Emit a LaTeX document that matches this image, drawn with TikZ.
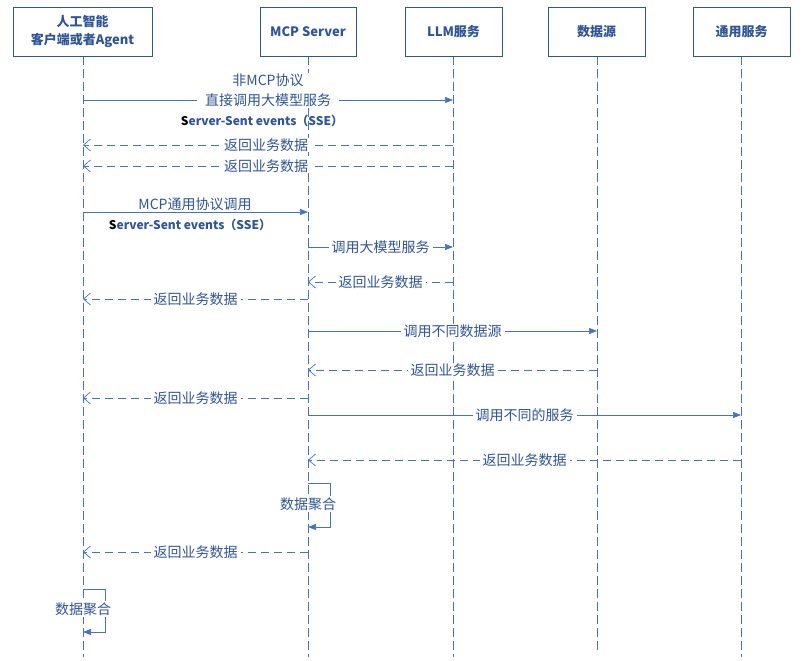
\documentclass[tikz,border=0pt]{standalone}
\usepackage{fontspec}
\setmainfont{Noto Sans CJK SC}
\usetikzlibrary{arrows.meta}
\definecolor{ln}{HTML}{4472C4}
\definecolor{tx}{HTML}{2F5597}
\begin{document}
\begin{tikzpicture}[x=1pt,y=-1pt,
  box/.style={draw=tx,line width=0.8pt,fill=white,minimum height=49pt,font=\fontsize{13}{18}\selectfont\bfseries,text=tx,align=center,inner sep=0pt},
  life/.style={draw=ln,dash pattern=on 9pt off 4pt,line width=0.7pt},
  call/.style={draw=ln,line width=0.7pt,-{Triangle[length=8pt,width=6pt]}},
  ret/.style={draw=ln,line width=0.7pt,dash pattern=on 8pt off 5pt,-{Straight Barb[length=7pt,width=12pt]}},
  lb/.style={fill=white,text=tx,font=\fontsize{14}{20}\selectfont,inner ysep=1pt,inner xsep=3pt,align=center},
  sse/.style={text=tx,font=\fontsize{12}{14}\selectfont\bfseries,inner sep=1pt}]
\useasboundingbox (0,0) rectangle (803,661);
\foreach \n/\x/\e in {a/83/657,m/308/657,l/453/657,d/597/650,g/741/657}{
  \coordinate (\n0) at (\x,56); \coordinate (\n1) at (\x,\e);
  \draw[life] (\n0)--(\n1);}
\node[box,minimum width=139pt] (A) at (82.5,31.5) {人工智能\\客户端或者Agent};
\node[box,minimum width=96pt] (M) at (308,31.5) {MCP Server};
\node[box,minimum width=97pt] (L) at (453.5,31.5) {LLM服务};
\node[box,minimum width=97pt] (D) at (596.5,31.5) {数据源};
\node[box,minimum width=97pt] (G) at (741.5,31.5) {通用服务};
\foreach \y in {100,145,166,212,247,282,299,331,370,398,415,460,552}{
  \foreach \n/\x in {a/83,m/308,l/453,d/597,g/741}{\coordinate (\n\y) at (\x,\y);}}
\draw[call] (a100)--(l100);
\node[lb,inner xsep=8pt] (t1) at (268,90) {非MCP协议\\直接调用大模型服务};
\node[sse] (s1) at (262,121) {\textcolor{black}{S}erver-Sent events（SSE）};
\draw[ret] (l145)--(a145) node[lb,pos=0.5,xshift=-2pt] (t2) {返回业务数据};
\draw[ret] (l166)--(a166) node[lb,pos=0.5,xshift=-2pt] (t3) {返回业务数据};
\draw[call] (a212)--(m212);
\node[lb,inner xsep=8pt] (t4) at (195,204) {MCP通用协议调用};
\node[sse] (s2) at (190,225) {\textcolor{black}{S}erver-Sent events（SSE）};
\draw[call] (m247)--(l247) node[lb,pos=0.5] (t5) {调用大模型服务};
\draw[ret] (l282)--(m282) node[lb,pos=0.5] (t6) {返回业务数据};
\draw[ret] (m299)--(a299) node[lb,pos=0.5] (t7) {返回业务数据};
\draw[call] (m331)--(d331) node[lb,pos=0.5] (t8) {调用不同数据源};
\draw[ret] (d370)--(m370) node[lb,pos=0.5] (t9) {返回业务数据};
\draw[ret] (m398)--(a398) node[lb,pos=0.5] (t10) {返回业务数据};
\draw[call] (m415)--(g415) node[lb,pos=0.5] (t11) {调用不同的服务};
\draw[ret] (g460)--(m460) node[lb,pos=0.5] (t12) {返回业务数据};
\coordinate (ms1) at (308,483); \coordinate (ms2) at (308,527);
\draw[call] (ms1)--++(22,0)--++(0,44)--(ms2);
\node[lb] (t13) at (308,504) {数据聚合};
\draw[ret] (m552)--(a552) node[lb,pos=0.5] (t14) {返回业务数据};
\coordinate (as1) at (83,589); \coordinate (as2) at (83,632);
\draw[call] (as1)--++(22,0)--++(0,43)--(as2);
\node[lb] (t15) at (83,609) {数据聚合};
\end{tikzpicture}
\end{document}
